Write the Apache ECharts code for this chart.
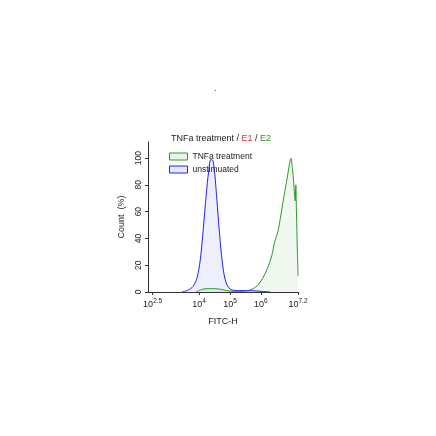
<!DOCTYPE html>
<html><head><meta charset="utf-8">
<script src="https://cdn.jsdelivr.net/npm/echarts@6/dist/echarts.min.js"></script>
<style>html,body{margin:0;background:#fff}#c{width:436px;height:436px}</style>
</head><body><div id="c"></div>
<script>
// x values are log10(FITC-H)
const unstimX = [3.45, 3.65, 3.8, 3.93, 4.04, 4.14, 4.23, 4.31, 4.38, 4.45, 4.51, 4.58, 4.65, 4.73, 4.81, 4.89, 4.97, 5.07, 5.3, 5.7, 6.0, 6.3];
const unstimY = [0, 1.5, 4, 10, 24, 48, 72, 90, 99, 98, 88, 68, 47, 27, 13, 6, 3, 1.5, 1, 1, 0.5, 0];
const tnfX = [3.9, 4.1, 4.3, 4.5, 4.7, 4.9, 5.1, 5.4, 5.6, 5.75, 5.9, 6.05, 6.2, 6.35, 6.45, 6.55, 6.65, 6.75, 6.85, 6.92, 6.97, 7.02, 7.06, 7.09, 7.11, 7.13, 7.15, 7.18, 7.2];
const tnfY = [0, 2, 2.5, 2.5, 2, 1, 0.5, 0.5, 1, 2.5, 5, 10, 17, 27, 38, 45, 58, 72, 85, 95, 100, 92, 82, 72, 68, 80, 60, 30, 12];
const xTicks = [2.5, 4, 5, 6, 7.2];
const yTicks = [0, 20, 40, 60, 80, 100];

const pairs = (xs, ys) => xs.map((x, i) => [x, ys[i]]);
const chart = echarts.init(document.getElementById('c'));
chart.setOption({
  animation: false,
  title: {
    text: '{a|TNFa treatment / }{r|E1}{a| / }{g|E2}',
    left: 216, top: 129, textAlign: 'center',
    textStyle: { fontWeight: 'normal', rich: {
      a: { fontSize: 9, color: '#222', fontFamily: 'Arial', fontWeight: 'normal' },
      r: { fontSize: 9, color: '#e03030', fontFamily: 'Arial', fontWeight: 'normal' },
      g: { fontSize: 9, color: '#2a9a2a', fontFamily: 'Arial', fontWeight: 'normal' }
    } }
  },
  graphic: [
    { type: 'text', left: 214, top: 84, style: { text: '.', fontSize: 9, fill: '#333' } }
  ],
  legend: {
    left: 164, top: 147, orient: 'vertical', itemWidth: 18, itemHeight: 7, itemGap: 4,
    textStyle: { fontSize: 8.5, color: '#222', fontFamily: 'Arial' },
    data: [
      { name: 'TNFa treatment', icon: 'rect', itemStyle: { color: '#eaf5ea', borderColor: '#2a9a2a', borderWidth: 1 } },
      { name: 'unstimuated', icon: 'rect', itemStyle: { color: '#e6e6fa', borderColor: '#2222ee', borderWidth: 1 } }
    ]
  },
  grid: { left: 148, top: 142, width: 150, height: 150 },
  xAxis: {
    type: 'value', min: 2.35, max: 7.2,
    name: 'FITC-H', nameLocation: 'middle', nameGap: 25,
    nameTextStyle: { fontSize: 9, color: '#222', fontFamily: 'Arial' },
    axisLine: { lineStyle: { color: '#333' } },
    axisTick: { customValues: xTicks, length: 3, lineStyle: { color: '#333' } },
    axisLabel: {
      customValues: xTicks, fontSize: 9, color: '#222', fontFamily: 'Arial', margin: 6,
      formatter: v => '10{s|' + v + '}',
      rich: { s: { fontSize: 6.5, verticalAlign: 'top', padding: [0, 0, 6, 0], color: '#222' } }
    },
    splitLine: { show: false }
  },
  yAxis: {
    type: 'value', min: 0, max: 112,
    name: 'Count  (%)', nameLocation: 'middle', nameGap: 22,
    nameTextStyle: { fontSize: 9, color: '#222', fontFamily: 'Arial' },
    axisLine: { show: true, lineStyle: { color: '#333' } },
    axisTick: { show: true, customValues: yTicks, length: 3 },
    axisLabel: { customValues: yTicks, fontSize: 8.5, color: '#222', fontFamily: 'Arial', rotate: 90, margin: 5 },
    splitLine: { show: false }
  },
  series: [
    { name: 'TNFa treatment', type: 'line', data: pairs(tnfX, tnfY), symbol: 'none', smooth: 0.3,
      lineStyle: { color: '#2a9a2a', width: 1 }, itemStyle: { color: '#2a9a2a' },
      areaStyle: { color: 'rgba(42,154,42,0.1)' } },
    { name: 'unstimuated', type: 'line', data: pairs(unstimX, unstimY), symbol: 'none', smooth: 0.3,
      lineStyle: { color: '#2222ee', width: 1 }, itemStyle: { color: '#2222ee' },
      areaStyle: { color: 'rgba(60,60,220,0.12)' } }
  ]
});
</script></body></html>
